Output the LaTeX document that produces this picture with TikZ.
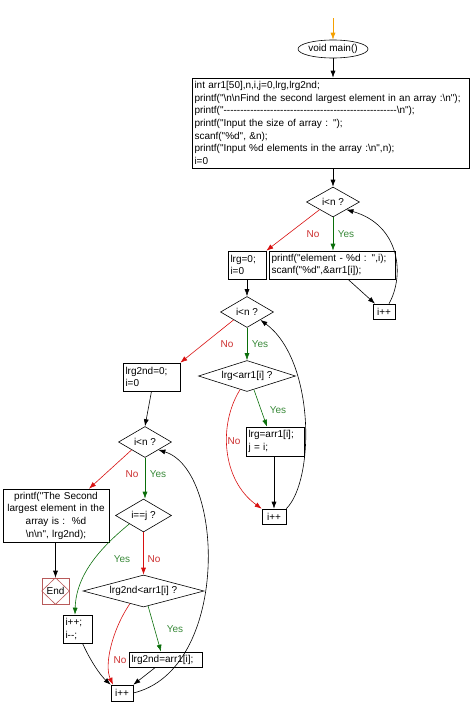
\documentclass[tikz,border=0pt]{standalone}
\usepackage{fontspec}
\setmainfont{Liberation Sans}[Ligatures=TeXOff]
\usetikzlibrary{shapes.geometric,arrows.meta}
\definecolor{noline}{HTML}{D81010}
\definecolor{yesline}{HTML}{0A6E0A}
\definecolor{notext}{HTML}{CC3030}
\definecolor{yestext}{HTML}{3A8A3A}
\definecolor{endcol}{HTML}{B85A5A}
\definecolor{startcol}{HTML}{F5A000}
\newcommand{\bsl}{\textbackslash}
\begin{document}
\begin{tikzpicture}[x=1pt,y=-1pt,
  every node/.style={font=\fontsize{10}{12.7}\selectfont},
  box/.style={draw, rectangle, inner sep=2.5pt, line width=0.6pt},
  lbox/.style={box, align=left},
  cbox/.style={box, inner sep=0pt},
  dec/.style={draw, diamond, inner sep=0pt, line width=0.6pt},
  startnode/.style={draw, ellipse, inner sep=0pt, line width=0.6pt, minimum width=68pt, minimum height=18pt},
  arr/.style={-{Latex[length=7pt,width=5pt]}, line width=0.6pt},
  yarr/.style={arr, yesline},
  narr/.style={arr, noline},
  ylab/.style={text=yestext, inner sep=0pt},
  nlab/.style={text=notext, inner sep=0pt}]
\useasboundingbox (0,0) rectangle (474,712);

% start
\coordinate (s0) at (333,18);
\node[startnode] (start) at (333,49) {void main()};
\draw[arr, startcol] (s0) -- (start.north);

\node[lbox, text width=272pt, minimum height=90pt] (init) at (330.5,123) {int arr1[50],n,i,j=0,lrg,lrg2nd;\\
printf("\bsl n\bsl nFind the second largest element in an array :\bsl n");\\
printf("----------------------------------------------------\bsl n");\\
printf("Input the size of array : ");\\
scanf("\%d", \&n);\\
printf("Input \%d elements in the array :\bsl n",n);\\
i=0};
\draw[arr] (start.south) -- (start.south |- init.north);

% first loop
\node[dec, aspect=1.77, minimum width=53pt, minimum height=30pt] (d1) at (333,202) {i<n ?};
\draw[arr] (init.south -| d1.north) -- (d1.north);
\node[lbox, text width=33pt, minimum height=28pt] (lrg0) at (247,265) {lrg=0;\\i=0};
\node[lbox, text width=121pt, minimum height=28pt] (read) at (332,265) {printf("element - \%d : ",i);\\scanf("\%d",\&arr1[i]);};
\draw[yarr] (d1.south) -- (d1.south |- read.north);
\draw[narr] (d1.south west) -- (lrg0.north east);
\node[ylab] (y1) at (346,234) {Yes};
\node[nlab] (n1) at (313,234) {No};
\node[cbox, minimum width=22pt, minimum height=15pt] (inc1) at (384,311.5) {i++};
\draw[arr] ([xshift=16pt]read.south) -- ([xshift=-9pt]inc1.north);
\draw[arr] ([xshift=5pt]inc1.north) .. controls (405,275) and (400,225) .. (d1.south east);

% second loop
\node[dec, aspect=1.71, minimum width=53pt, minimum height=31pt] (d2) at (247,312) {i<n ?};
\draw[arr] (lrg0.south) -- (d2.north);
\node[dec, aspect=3.13, minimum width=97pt, minimum height=31pt] (d3) at (247,376) {lrg<arr1[i] ?};
\draw[yarr] (d2.south) -- (d3.north);
\node[ylab] (y2) at (260,344) {Yes};
\node[nlab] (n2) at (227,344) {No};
\node[lbox, text width=52pt, minimum height=28pt] (lrg2nd0) at (151.5,377) {lrg2nd=0;\\i=0};
\draw[narr] (d2.south west) -- (lrg2nd0.north east);
\node[lbox, text width=53pt, minimum height=29pt] (setlrg) at (275,441.5) {lrg=arr1[i];\\j = i;};
\draw[yarr] (d3.-63) -- ([xshift=-8pt]setlrg.north);
\node[ylab] (y3) at (278,410) {Yes};
\node[cbox, minimum width=24pt, minimum height=15pt] (inc2) at (274,516.5) {i++};
\draw[arr] (setlrg.south -| inc2.north) -- (inc2.north);
\draw[narr] (d3.-117) .. controls (218,425) and (222,480) .. (inc2.north west);
\node[nlab] (n3) at (234,441) {No};
\draw[arr] (inc2.north east) .. controls (315,480) and (315,360) .. (d2.south east);

% third loop
\node[dec, aspect=1.71, minimum width=53pt, minimum height=31pt] (d4) at (145,442) {i<n ?};
\draw[arr] (lrg2nd0.south) -- (d4.north);
\node[box, text width=101pt, align=center, minimum height=53pt] (print) at (56,515.5) {printf("The Second\\largest element in the\\array is :\ \ \%d\\\bsl n\bsl n", lrg2nd);};
\draw[narr] (d4.south west) -- ([xshift=33pt]print.north);
\node[nlab] (n4) at (132,474) {No};
\node[ylab] (y4) at (158,474) {Yes};
\node[dec, aspect=1.7, minimum width=56pt, minimum height=33pt] (d5) at (143.5,515.5) {i==j ?};
\draw[yarr] (d4.south) -- (d4.south |- d5.north);
\node[draw=endcol, rectangle, inner sep=0pt, line width=0.6pt, minimum width=27pt, minimum height=26pt] (end) at (55.5,591) {End};
\draw[endcol, line width=0.6pt] (end.north) -- (end.east) -- (end.south) -- (end.west) -- cycle;
\draw[arr] (print.south -| end.north) -- (end.north);
\node[dec, aspect=3.78, minimum width=121pt, minimum height=32pt] (d6) at (143.5,591) {lrg2nd<arr1[i] ?};
\draw[narr] (d5.south) -- (d6.north);
\node[ylab] (y5) at (122,559) {Yes};
\node[nlab] (n5) at (154,559) {No};
\node[lbox, text width=24pt, minimum height=28pt] (swap) at (77.5,629) {i++;\\i--;};
\draw[yarr] (d5.south west) .. controls (100,548) and (76,575) .. ([xshift=-2.5pt]swap.north);
\node[lbox, text width=68pt, minimum height=15pt, inner ysep=0pt] (setlrg2) at (165.5,659.5) {lrg2nd=arr1[i];};
\draw[yarr] (d6.-73) -- ([xshift=-4.5pt]setlrg2.north);
\node[ylab] (y6) at (175,629) {Yes};
\node[cbox, minimum width=22pt, minimum height=16pt] (inc3) at (122,693) {i++};
\draw[narr] (d6.-137) .. controls (112,630) and (104,665) .. ([xshift=-9pt]inc3.north);
\node[nlab] (n6) at (120,660) {No};
\draw[arr] ([xshift=5pt]swap.south) .. controls (90,660) and (100,675) .. (inc3.north west);
\draw[arr] ([xshift=-10pt]setlrg2.south) -- (inc3.north east);
\draw[arr] (inc3.east) .. controls (230,670) and (225,470) .. (d4.south east);
\end{tikzpicture}
\end{document}
